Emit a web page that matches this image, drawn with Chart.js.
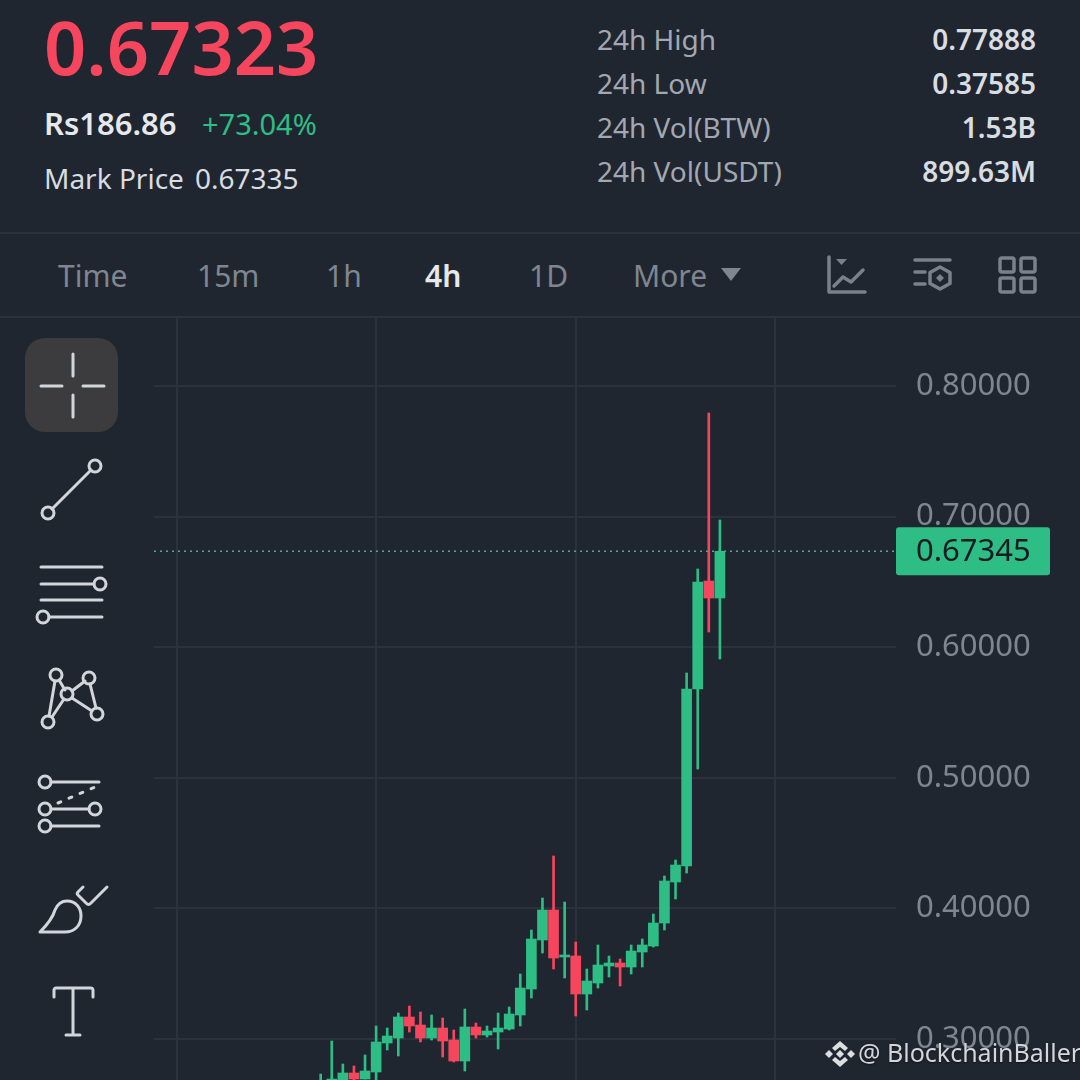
<!DOCTYPE html>
<html>
<head>
<meta charset="utf-8">
<title>BTW/USDT 4h</title>
<script src="https://cdn.jsdelivr.net/npm/chart.js@4/dist/chart.umd.min.js"></script>
<style>
html, body { margin: 0; padding: 0; background: #1f2630; }
body { position: relative; width: 1080px; height: 1080px; overflow: hidden; font-family: "Noto Sans", sans-serif; }
#chart { position: absolute; left: 0; top: 318px; }
.t { position: absolute; white-space: nowrap; line-height: 1; }
.rule { position: absolute; left: 0; width: 1080px; height: 2px; background: #2c323b; }
.stat { color: #a3a8b0; font-size: 28px; left: 597px; }
.val { color: #d9dce0; font-size: 28px; font-weight: 600; right: 44px; }
.tab { color: #7f8690; font-size: 30px; top: 261px; }
svg { position: absolute; left: 0; top: 0; }
.ic { fill: none; stroke: #d2d5d9; stroke-width: 3; stroke-linecap: round; stroke-linejoin: round; }
.ic2 { fill: none; stroke: #7b808b; stroke-width: 3.5; stroke-linecap: round; stroke-linejoin: round; }
</style>
</head>
<body>
<div class="t" style="left:44px;top:10px;font-size:74px;font-weight:600;color:#f6465d">0.67323</div>
<div class="t" style="left:44px;top:108px;font-size:31px;font-weight:600;color:#e6e8eb">Rs186.86</div>
<div class="t" style="left:202px;top:109px;font-size:29px;color:#2ebd85">+73.04%</div>
<div class="t" style="left:44px;top:164px;font-size:28px;color:#d9dce0">Mark Price</div>
<div class="t" style="left:195px;top:164px;font-size:28px;color:#d9dce0">0.67335</div>

<div class="t stat" style="top:25px">24h High</div>
<div class="t stat" style="top:69px">24h Low</div>
<div class="t stat" style="top:113px">24h Vol(BTW)</div>
<div class="t stat" style="top:157px">24h Vol(USDT)</div>
<div class="t val" style="top:25px">0.77888</div>
<div class="t val" style="top:69px">0.37585</div>
<div class="t val" style="top:113px">1.53B</div>
<div class="t val" style="top:157px">899.63M</div>

<div class="rule" style="top:232px"></div>
<div class="t tab" style="left:58px">Time</div>
<div class="t tab" style="left:197px">15m</div>
<div class="t tab" style="left:326px">1h</div>
<div class="t tab" style="left:425px;color:#e6e8eb;font-weight:600">4h</div>
<div class="t tab" style="left:529px">1D</div>
<div class="t tab" style="left:633px">More</div>
<div class="rule" style="top:316px"></div>

<canvas id="chart" width="1080" height="762"></canvas>

<svg width="1080" height="1080">
  <path d="M721 268h20l-10 13z" fill="#7f8690"/>
  <!-- top right icons -->
  <g class="ic2">
    <path d="M829 257v35h36"/>
    <path d="M834 286l9-9 8 5 12-12"/>
    <path d="M915 260h35M915 272h10M915 284h10"/>
    <path d="M940 267l10 5.5v11l-10 5.5-10-5.5v-11z"/>
    <rect x="1000" y="258" width="14" height="14" rx="2"/>
    <rect x="1021" y="258" width="14" height="14" rx="2"/>
    <rect x="1000" y="278" width="14" height="14" rx="2"/>
    <rect x="1021" y="278" width="14" height="14" rx="2"/>
  </g>
  <path d="M836 259h11l-5.500 6z" fill="#7b808b"/>
  <path d="M940 274l4 4-4 4-4-4z" fill="#7b808b"/>
  <!-- left drawing tools -->
  <rect x="25" y="338" width="93" height="94" rx="20" fill="#3c3c3e"/>
  <g class="ic">
    <path d="M73 354v22M73 395v22M41 386h21M83 386h21"/>
    <path d="M52 509l39-39"/><circle cx="95" cy="466" r="6"/><circle cx="48" cy="513" r="6"/>
    <path d="M41 567h61M41 584h53M41 600h61M49 617h53"/><circle cx="100" cy="584" r="6"/><circle cx="43" cy="617" r="6"/>
    <path d="M55 681l-6 35M59 680l6 10M72 691l13-10M90 684l6 24M52 717l12-18M72 698l20 13"/>
    <circle cx="56" cy="675" r="6"/><circle cx="89" cy="678" r="6"/><circle cx="67" cy="694" r="6"/><circle cx="48" cy="722" r="6"/><circle cx="97" cy="714" r="6"/>
    <path d="M51 782h48M51 809h38M51 826h48"/>
    <path d="M58 803l37-16" stroke-dasharray="3 9"/>
    <circle cx="45" cy="782" r="6"/><circle cx="45" cy="809" r="6"/><circle cx="95" cy="809" r="6"/><circle cx="45" cy="826" r="6"/>
    <path d="M40 932c9-9 13-15 15-22 3-7 7-9 12-9 9 0 14 7 14 15 0 10-7 16-16 16z"/>
    <path d="M83 887l-5 5c-1 1-1 2 0 3l8 8c2 2 3 2 5 0l16-16"/>
    <path d="M54 997v-7c0-1 1-2 2-2h35c1 0 2 1 2 2v7M73 988v47M66 1035h14"/>
  </g>
  <!-- watermark logo -->
  <g fill="#dcdee1">
    <path d="M840 1041l8 7-3 3-5-4-5 4-3-3z"/>
    <path d="M840 1067l8-7-3-3-5 4-5-4-3 3z"/>
    <path d="M840 1050l4 4-4 4-4-4z"/>
    <path d="M829 1050l4 4-4 4-4-4z"/>
    <path d="M851 1050l4 4-4 4-4-4z"/>
  </g>
</svg>
<div class="t" style="left:858px;top:1040px;font-size:25px;color:#d4d6da;text-shadow:0 1px 2px #0008">@ BlockchainBaller</div>

<script>
const opens  = [0.2600,0.2640,0.2660,0.27397,0.26937,0.27473,0.29694,0.30077,0.31685,0.31072,0.30077,0.30842,0.29923,0.28315,0.30919,0.30306,0.30536,0.30766,0.31838,0.33828,0.3758,0.39877,0.36279,0.36355,0.33446,0.34288,0.3559,0.35819,0.35513,0.36662,0.37121,0.38882,0.42021,0.43247,0.56799,0.65069,0.63767];
const highs  = [0.2732,0.29847,0.28086,0.27933,0.28775,0.30995,0.30842,0.31991,0.32527,0.32067,0.31838,0.31608,0.30689,0.32297,0.31225,0.30995,0.31991,0.3245,0.34977,0.38346,0.40796,0.44012,0.4049,0.37427,0.3536,0.37198,0.36355,0.36126,0.37198,0.37657,0.39571,0.42481,0.43706,0.58025,0.65988,0.77933,0.6974];
const lows   = [0.2580,0.2600,0.2640,0.2640,0.26937,0.2650,0.29158,0.28698,0.30536,0.2977,0.29923,0.28622,0.28239,0.2755,0.30077,0.30153,0.29234,0.30689,0.30995,0.33139,0.36585,0.3536,0.34671,0.31761,0.32221,0.33905,0.34747,0.34058,0.34977,0.35513,0.37044,0.38346,0.4072,0.42711,0.50674,0.61164,0.59096];
const closes = [0.2650,0.26937,0.27397,0.26937,0.2755,0.2977,0.3023,0.31685,0.30995,0.30077,0.30842,0.29847,0.28315,0.30919,0.30306,0.30613,0.30842,0.31914,0.33905,0.37657,0.39877,0.36202,0.36432,0.33446,0.34441,0.35666,0.35819,0.35513,0.36738,0.37198,0.38882,0.42098,0.43323,0.56799,0.64992,0.63767,0.67345];
const yTicks = [0.3,0.4,0.5,0.6,0.7,0.8];
const xGrid  = [-4,14,32,50];
const lastPrice = 0.67345;

const upColor = '#2ebd85';
const downColor = '#f6465d';
const xMin = -15.03, xMax = 51.88;
const gridColor = '#2c323b';

function candleColor(i){
    return closes[i] >= opens[i] ? upColor : downColor;
}

const priceTag = {
    id: 'priceTag',
    afterDraw(chart){
        const ctx = chart.ctx;
        const y = chart.scales.y.getPixelForValue(lastPrice);
        ctx.save();
        ctx.fillStyle = upColor;
        ctx.beginPath();
        ctx.roundRect(896, y - 24, 154, 48, 3);
        ctx.fill();
        ctx.fillStyle = '#161b22';
        ctx.font = '31px "Noto Sans"';
        ctx.textBaseline = 'middle';
        ctx.fillText(lastPrice.toFixed(5), 916, y + 1);
        ctx.restore();
    }
};

const chart = new Chart(document.getElementById('chart').getContext('2d'), {
    type: 'bar',
    data: {
        datasets: [{
            label: 'Body',
            data: opens.map((o, i) => ({x: i, y: [o, closes[i]]})),
            backgroundColor: opens.map((o, i) => candleColor(i)),
            barThickness: 10,
            grouped: false,
            order: 1
        }, {
            label: 'Wick',
            data: lows.map((l, i) => ({x: i, y: [l, highs[i]]})),
            backgroundColor: lows.map((l, i) => candleColor(i)),
            barThickness: 2,
            grouped: false,
            order: 2
        }, {
            type: 'line',
            label: 'Last',
            data: [{x: xMin, y: lastPrice}, {x: xMax, y: lastPrice}],
            borderColor: '#4fa99a',
            borderWidth: 1.5,
            borderDash: [2, 4],
            pointRadius: 0,
            order: 3
        }]
    },
    options: {
        responsive: false,
        animation: false,
        layout: {padding: {left: 154}},
        plugins: {legend: {display: false}, tooltip: {enabled: false}},
        scales: {
            x: {
                type: 'linear',
                offset: false,
                min: xMin,
                max: xMax,
                border: {display: false},
                grid: {color: gridColor, lineWidth: 2, drawTicks: false},
                ticks: {display: false},
                afterBuildTicks: s => { s.ticks = xGrid.map(v => ({value: v})); },
                afterFit: s => { s.height = 0; s.paddingLeft = 0; s.paddingRight = 0; }
            },
            y: {
                position: 'right',
                min: 0.26861,
                max: 0.85207,
                border: {display: false},
                grid: {color: gridColor, lineWidth: 2, drawTicks: false},
                ticks: {
                    color: '#7f8690',
                    padding: 20,
                    font: {family: 'Noto Sans', size: 31},
                    callback: v => v.toFixed(5)
                },
                afterBuildTicks: s => { s.ticks = yTicks.map(v => ({value: v})); },
                afterFit: s => { s.width = 184; s.paddingTop = 0; s.paddingBottom = 0; }
            }
        }
    },
    plugins: [priceTag]
});
</script>
</body>
</html>
